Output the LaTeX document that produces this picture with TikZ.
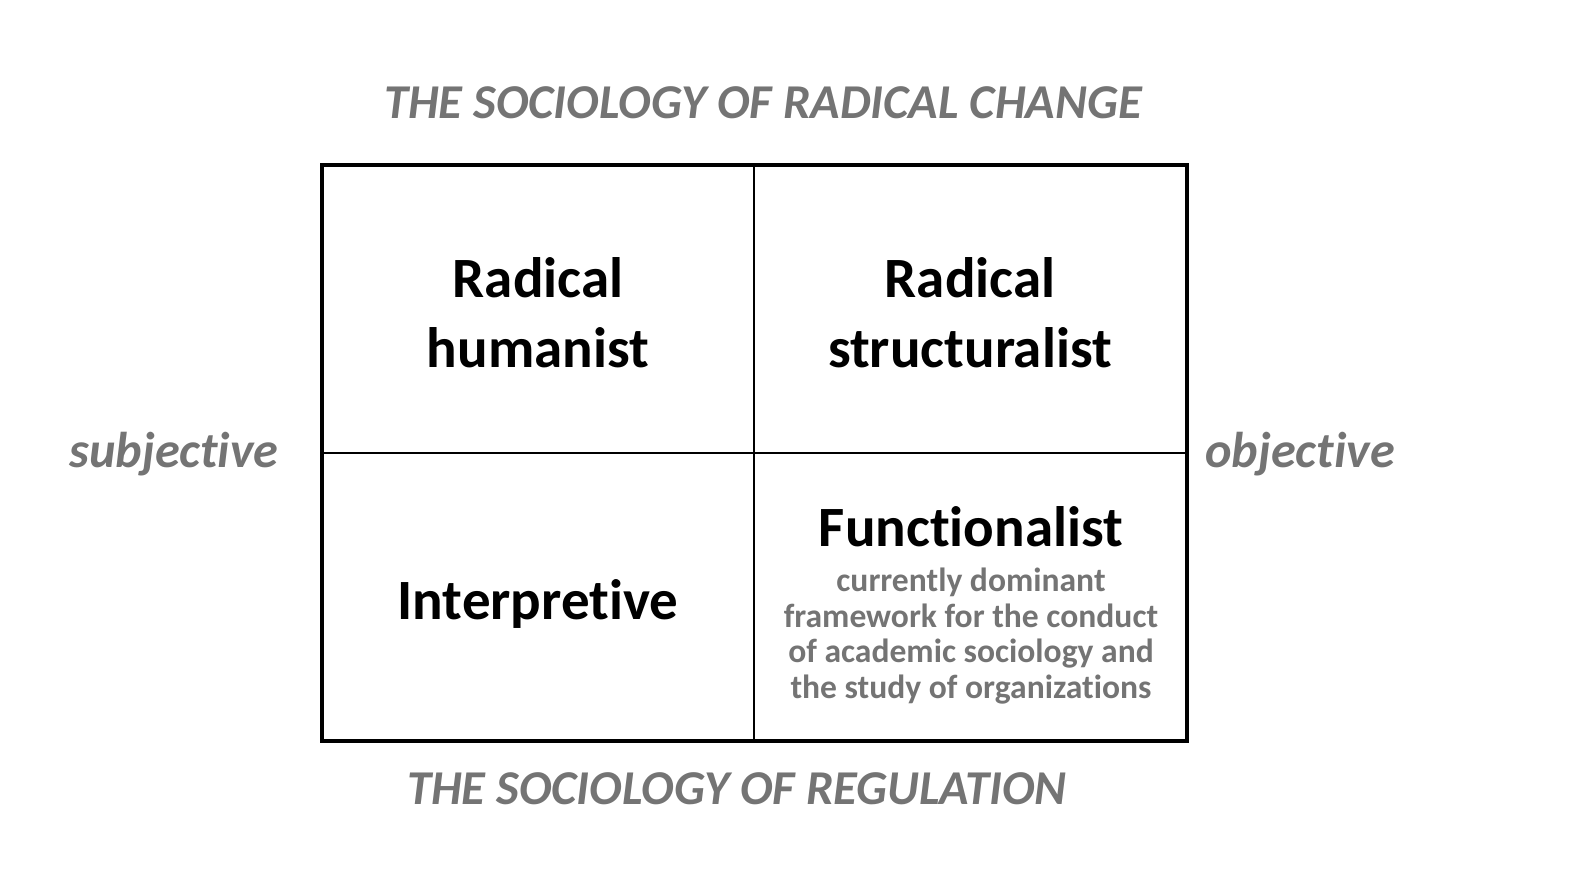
\documentclass[tikz,border=0pt]{standalone}
\usepackage{fontspec}
\setmainfont{Carlito}[Ligatures=NoCommon]
\usetikzlibrary{positioning}
\definecolor{headgray}{HTML}{747474}
\begin{document}
\begin{tikzpicture}[x=1bp,y=-1bp,
  quad node/.style={align=center,font=\fontsize{57.2}{70.3}\selectfont\bfseries},
  axis node/.style={text=headgray,font=\fontsize{48.8}{50}\selectfont\bfseries\itshape},
  side node/.style={axis node,font=\fontsize{50.5}{50}\selectfont\bfseries\itshape},
  note node/.style={align=center,text=headgray,font=\fontsize{33.7}{36}\selectfont\bfseries}]
    \useasboundingbox (0,0) rectangle (1578,868);
    \coordinate (NW) at (322,165);
    \coordinate (SE) at (1187,741);
    \coordinate (C) at (754,453);
    \draw[line width=4bp] (NW) rectangle (SE);
    \draw[line width=2bp] (NW -| C) -- (SE -| C)
                          (NW |- C) -- (SE |- C);
    \node[quad node](RH) at (538,313){Radical\\humanist};
    \node[quad node](RS) at (970,313){Radical\\structuralist};
    \node[quad node](IN) at (538,604){Interpretive};
    \node[quad node](FU) at (971,527){Functionalist};
    \node[note node](NOTE) at (971,636){currently dominant\\framework for the conduct\\of academic sociology and\\the study of organizations};
    \node[axis node](TOP) at (763,103){THE SOCIOLOGY OF RADICAL CHANGE};
    \node[axis node](BOT) at (737,789){THE SOCIOLOGY OF REGULATION};
    \node[side node](SUB) at (174,454){subjective};
    \node[side node](OBJ) at (1300,454){objective};
\end{tikzpicture}
\end{document}
